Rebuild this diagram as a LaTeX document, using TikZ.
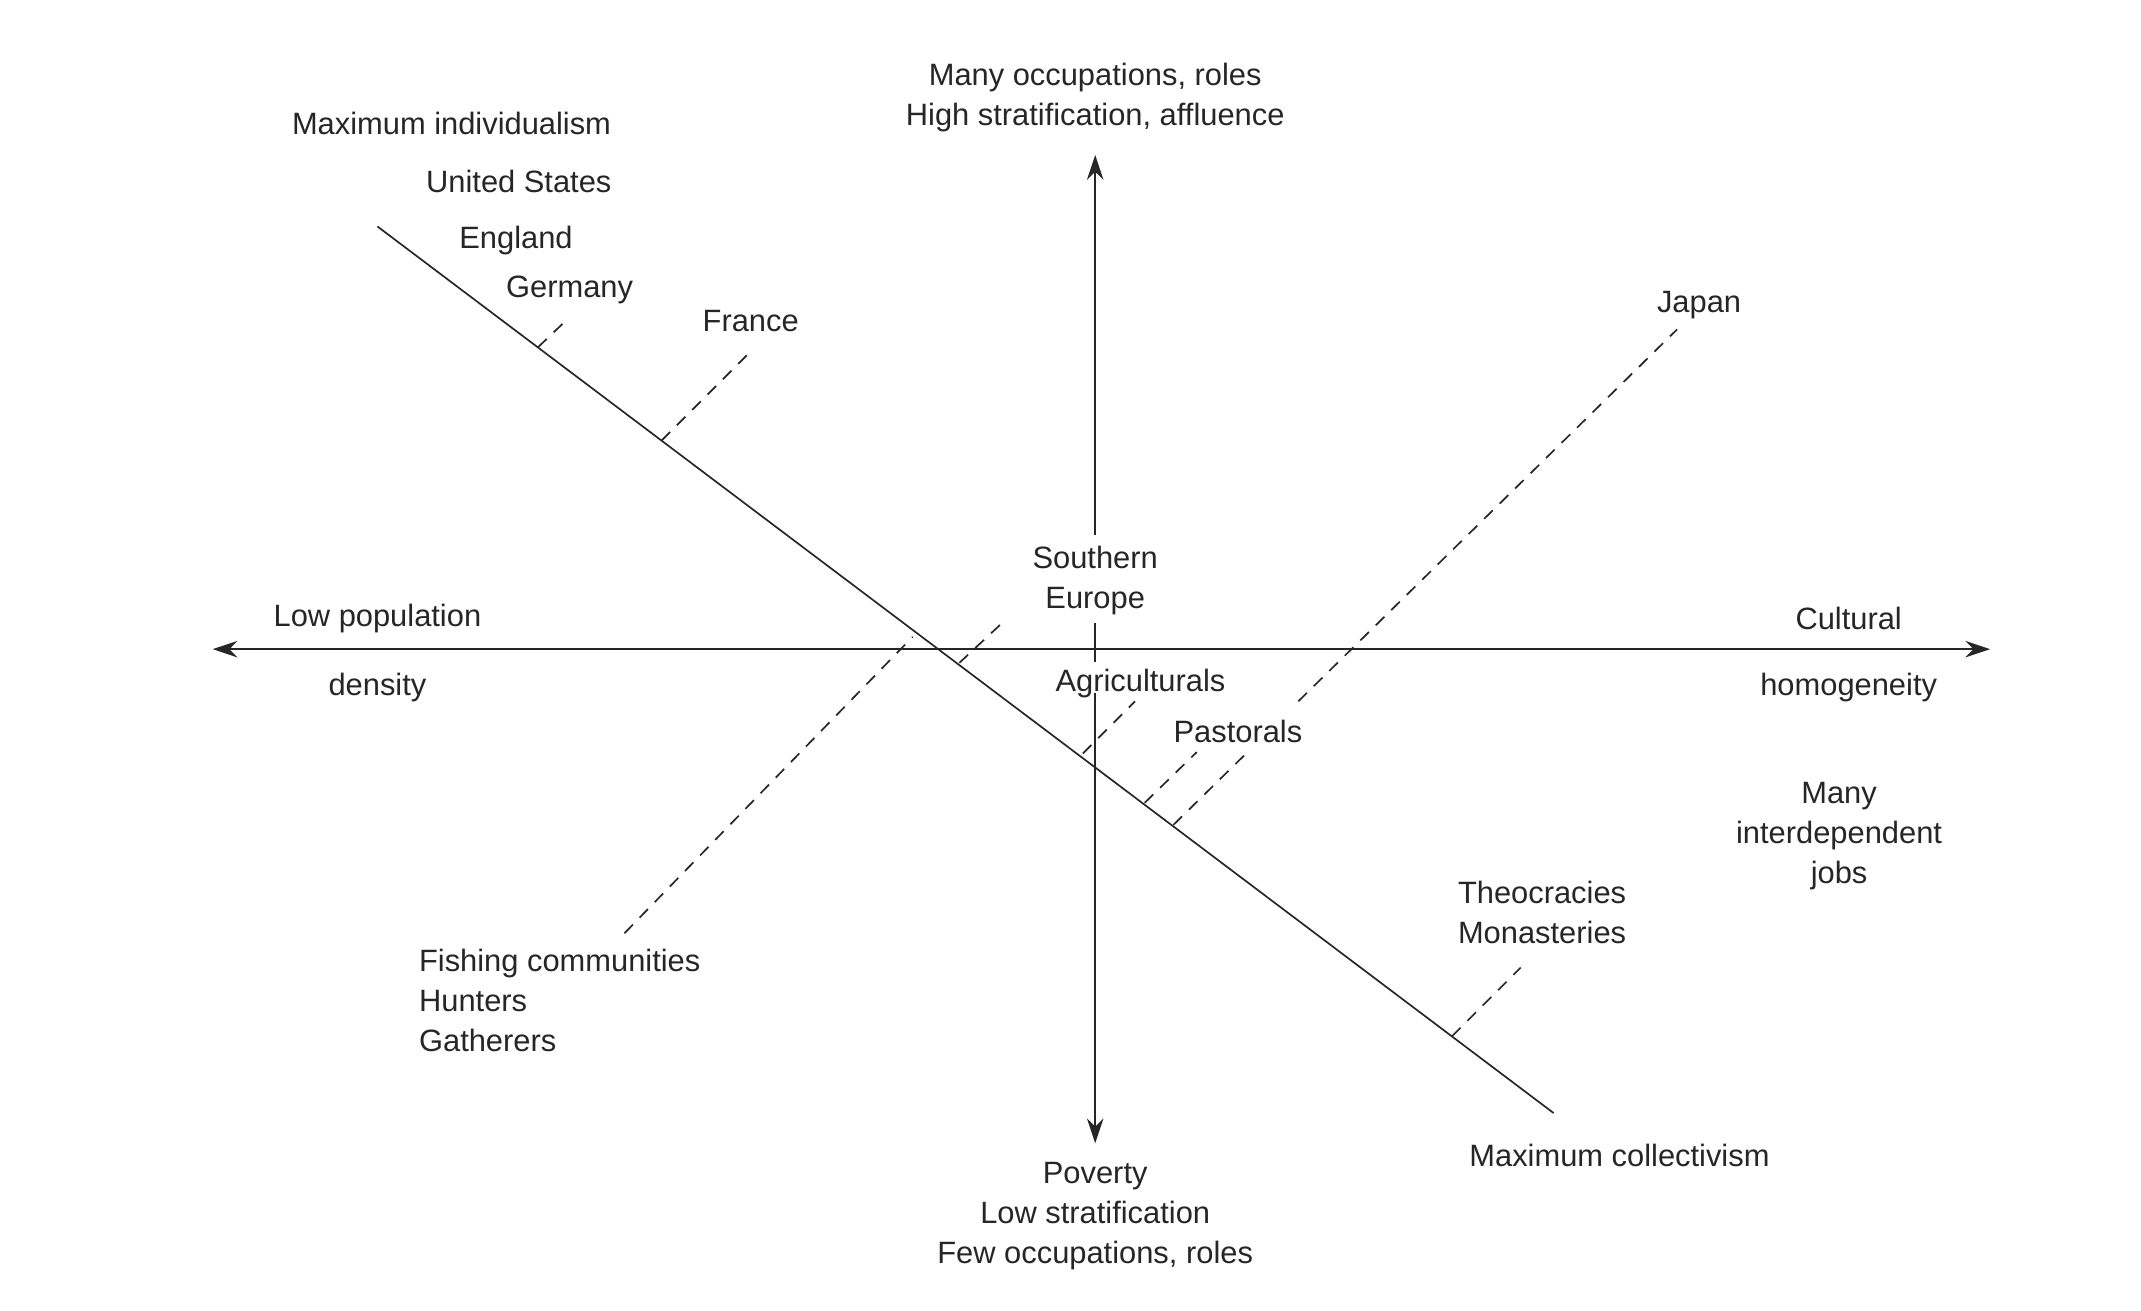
\documentclass[tikz,border=0pt]{standalone}
\usepackage{fontspec}
\setmainfont{Liberation Sans}
\usetikzlibrary{arrows.meta}
\begin{document}
\begin{tikzpicture}[x=0.02cm,y=-0.02cm,
  lbl/.style={inner sep=0pt,font=\fontsize{12.8}{16.5}\selectfont,text=black!85},
  ax/.style={line width=0.7pt,black!85},
  dsh/.style={line width=0.7pt,black!85,dash pattern=on 5pt off 4pt},
  tip/.style={-{Stealth[length=0.36cm,width=0.24cm]}}]
\useasboundingbox (0,0) rectangle (1560,955);
% axes
\coordinate (L) at (155,473); \coordinate (R) at (1450,473);
\coordinate (T) at (798,113); \coordinate (B) at (798,833);
\coordinate (vt1) at (798,390); \coordinate (vt2) at (798,454);
\coordinate (vb1) at (798,482); \coordinate (vb2) at (798,505);
\coordinate (C) at (798,473);
\draw[ax,tip] (C) -- (L);
\draw[ax,tip] (C) -- (R);
\draw[ax,tip] (vt1) -- (T);
\draw[ax] (vt2) -- (vb1);
\draw[ax,tip] (vb2) -- (B);
% diagonal
\coordinate (D1) at (275,165); \coordinate (D2) at (1132,811);
\draw[ax] (D1) -- (D2);
% dashed lines
\coordinate (g1) at (392,253); \coordinate (g2) at (412,234);
\coordinate (f1) at (482,321); \coordinate (f2) at (548,255);
\coordinate (h1) at (455,680); \coordinate (h2) at (665,464);
\coordinate (s1) at (699,483); \coordinate (s2) at (729,455);
\coordinate (a1) at (789,549); \coordinate (a2) at (827,511);
\coordinate (p1) at (834,585); \coordinate (p2) at (872,548);
\coordinate (j1) at (855,601); \coordinate (j2) at (907,550);
\coordinate (j3) at (946,511); \coordinate (j4) at (1222,240);
\coordinate (t1) at (1058,755); \coordinate (t2) at (1108,705);
\foreach \a/\b in {g1/g2,f1/f2,h1/h2,s1/s2,a1/a2,p1/p2,j1/j2,j3/j4,t1/t2}
  \draw[dsh] (\a) -- (\b);
% labels
\node[lbl,align=center] (top) at (798,71) {Many occupations, roles\\High stratification, affluence};
\node[lbl] (maxi) at (329,90) {Maximum individualism};
\node[lbl] (us) at (378,132) {United States};
\node[lbl] (eng) at (376,175) {England};
\node[lbl] (ger) at (415,211) {Germany};
\node[lbl] (fra) at (547,234) {France};
\node[lbl] (jap) at (1238,222) {Japan};
\node[lbl,align=center] (se) at (798,423) {Southern\\Europe};
\node[lbl] (lp) at (275,451) {Low population};
\node[lbl] (den) at (275,501) {density};
\node[lbl] (cul) at (1347,451) {Cultural};
\node[lbl] (hom) at (1347,501) {homogeneity};
\node[lbl] (agr) at (831,498) {Agriculturals};
\node[lbl] (pas) at (902,533) {Pastorals};
\node[lbl,align=center] (many) at (1340,609) {Many\\interdependent\\jobs};
\node[lbl,align=left,anchor=west] (theo) at (1062,665) {Theocracies\\Monasteries};
\node[lbl,align=left,anchor=west] (fish) at (305,729) {Fishing communities\\Hunters\\Gatherers};
\node[lbl] (maxc) at (1180,842) {Maximum collectivism};
\node[lbl,align=center] (bot) at (798,886) {Poverty\\Low stratification\\Few occupations, roles};
\end{tikzpicture}
\end{document}
